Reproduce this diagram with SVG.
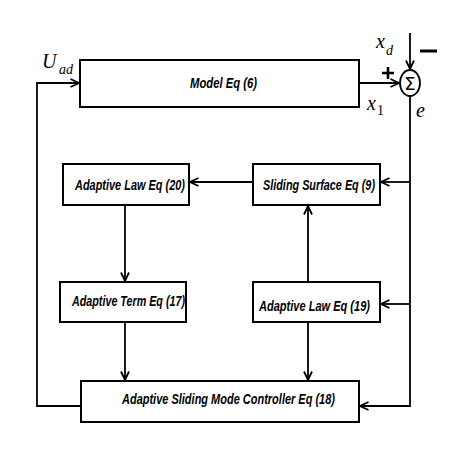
<svg xmlns="http://www.w3.org/2000/svg" width="474" height="474" viewBox="0 0 474 474">
<style>
.box{fill:#fff;stroke:#000;stroke-width:2}
.lbl{font-family:"Liberation Sans",Arial,sans-serif;font-weight:bold;font-style:italic;font-size:14px;fill:#000}
.m{font-family:"Liberation Serif","Times New Roman",serif;font-style:italic;font-size:20px;fill:#000}
.s{font-family:"Liberation Serif","Times New Roman",serif;font-style:italic;font-size:14px;fill:#000}
.c{fill:none;stroke:#000;stroke-width:1.8}
</style>
<defs>
<marker id="a" viewBox="0 0 10 10" refX="9.5" refY="5" markerWidth="10" markerHeight="10" markerUnits="userSpaceOnUse" orient="auto">
<path d="M1,1 L9.5,5 L1,9" fill="none" stroke="#000" stroke-width="1.8"/>
</marker>
</defs>
<rect width="474" height="474" fill="#fff"/>
<g id="connectors">
<path class="c" d="M81,406 H37 V83 H79" marker-end="url(#a)"/>
<path class="c" d="M359,83 H399" marker-end="url(#a)"/>
<path class="c" d="M410,33 V69" marker-end="url(#a)"/>
<path class="c" d="M410,96 V406 H360" marker-end="url(#a)"/>
<path class="c" d="M410,182 H381" marker-end="url(#a)"/>
<path class="c" d="M410,304 H381" marker-end="url(#a)"/>
<path class="c" d="M253,182 H190" marker-end="url(#a)"/>
<path class="c" d="M125,205 V281" marker-end="url(#a)"/>
<path class="c" d="M125,322 V380" marker-end="url(#a)"/>
<path class="c" d="M308,282 V206" marker-end="url(#a)"/>
<path class="c" d="M308,322 V380" marker-end="url(#a)"/>
</g>
<g id="model">
<rect class="box" x="80" y="60" width="279" height="47"/>
<text class="lbl" x="190" y="88" textLength="67" lengthAdjust="spacingAndGlyphs">Model  Eq (6)</text>
</g>
<g id="sum">
<ellipse cx="410" cy="83" rx="10" ry="13" fill="#fff" stroke="#000" stroke-width="1.8"/>
<text x="410" y="90" text-anchor="middle" font-family="'DejaVu Sans',sans-serif" font-size="18">Σ</text>
</g>
<g id="labels">
<text class="m" x="42" y="68">U</text>
<text class="s" x="59" y="74">ad</text>
<text class="m" x="376" y="48">x</text>
<text class="s" x="386" y="55">d</text>
<rect x="420" y="49.5" width="17" height="3" fill="#000"/>
<path d="M382,73 H394 M388,67 V79" stroke="#000" stroke-width="2.6" fill="none"/>
<text class="m" x="367" y="110">x</text>
<text x="377" y="115" font-family="'Liberation Serif','Times New Roman',serif" font-size="14">1</text>
<text class="m" x="416" y="117">e</text>
</g>
<g id="sliding">
<rect class="box" x="253" y="164" width="127" height="41"/>
<text class="lbl" x="263" y="190" textLength="112" lengthAdjust="spacingAndGlyphs">Sliding Surface Eq (9)</text>
</g>
<g id="law20">
<rect class="box" x="63" y="164" width="126" height="41"/>
<text class="lbl" x="75" y="190" textLength="110" lengthAdjust="spacingAndGlyphs">Adaptive Law  Eq (20)</text>
</g>
<g id="term17">
<rect class="box" x="60" y="282" width="126" height="40"/>
<text class="lbl" x="72" y="306" textLength="113" lengthAdjust="spacingAndGlyphs">Adaptive Term Eq (17)</text>
</g>
<g id="law19">
<rect class="box" x="253" y="282" width="127" height="40"/>
<text class="lbl" x="259" y="311" textLength="111" lengthAdjust="spacingAndGlyphs">Adaptive Law  Eq (19)</text>
</g>
<g id="controller">
<rect class="box" x="81" y="381" width="278" height="41"/>
<text class="lbl" x="122" y="404" textLength="213" lengthAdjust="spacingAndGlyphs">Adaptive Sliding Mode Controller  Eq (18)</text>
</g>
</svg>
